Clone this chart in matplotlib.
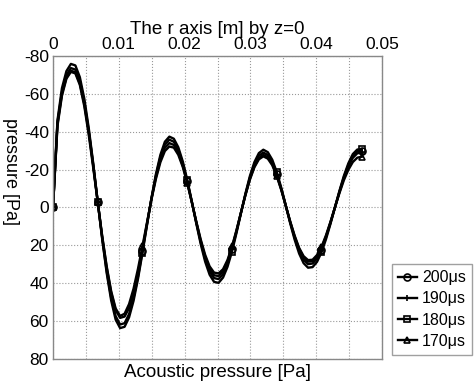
import matplotlib
matplotlib.use("Agg")
import matplotlib.pyplot as plt
from matplotlib.ticker import MultipleLocator

plt.rcParams['font.family'] = ['Liberation Sans', 'DejaVu Sans']
plt.rcParams['axes.unicode_minus'] = False

# r positions [m], sampled every 0.00068 m
r_step = 0.00068
r = [i * r_step for i in range(70)]

p_200us = [0, -45, -61, -70, -73.6, -72.8, -66.8, -55.7, -40.4, -22.4, -2.9, 16.3, 33.6, 47.6, 57.4,
           61.8, 61.1, 56.3, 47.8, 36.5, 23.0, 9.0, -4.7, -16.9, -26.6, -33.2, -35.8, -34.7, -30.4,
           -23.2, -13.9, -3.2, 7.8, 18.2, 27.2, 33.7, 37.3, 37.8, 35.2, 29.7, 22.1, 12.8, 2.9, -6.9,
           -15.8, -22.7, -27.3, -29.0, -27.7, -23.9, -17.7, -9.9, -1.1, 7.8, 16.0, 22.8, 27.6, 29.9,
           29.6, 27.0, 22.3, 15.8, 8.2, 0.0, -8.3, -16.0, -22.4, -27.2, -29.7, -30.0]
p_190us = [0, -44, -60, -68.6, -72.2, -71.4, -65.5, -54.6, -39.6, -21.9, -2.8, 15.6, 31.8, 45.0, 54.2,
           58.3, 57.6, 53.1, 45.1, 34.4, 21.8, 8.6, -4.5, -16.0, -25.2, -31.5, -34.0, -33.0, -28.9,
           -22.1, -13.3, -3.1, 7.5, 17.5, 26.0, 32.3, 35.8, 36.2, 33.7, 28.5, 21.2, 12.3, 2.7, -6.6,
           -15.1, -21.7, -26.0, -27.8, -26.6, -22.9, -17.0, -9.6, -1.1, 7.5, 15.3, 21.9, 26.5, 28.6,
           28.4, 25.8, 21.4, 15.3, 7.9, 0.0, -8.0, -15.4, -21.6, -26.2, -28.6, -29.0]
p_180us = [0, -46, -63, -72, -75.8, -75.0, -68.8, -57.4, -41.7, -23.1, -3.0, 16.8, 34.6, 49.1, 59.2,
           63.7, 63.0, 58.0, 49.3, 37.6, 23.9, 9.4, -4.9, -17.6, -27.8, -34.7, -37.4, -36.3, -31.8,
           -24.3, -14.6, -3.4, 8.2, 19.2, 28.6, 35.5, 39.3, 39.8, 37.0, 31.3, 23.3, 13.5, 3.0, -7.3,
           -16.6, -23.9, -28.7, -30.5, -29.2, -25.2, -18.7, -10.5, -1.2, 8.3, 17.0, 24.3, 29.4, 31.8,
           31.5, 28.7, 23.7, 16.8, 8.7, 0.0, -8.7, -16.7, -23.3, -28.2, -30.6, -30.7]
p_170us = [0, -43, -59, -68, -71.6, -70.8, -64.7, -53.4, -38.2, -20.8, -2.7, 15.1, 31.1, 44.2, 53.3,
           57.3, 56.1, 51.0, 42.9, 32.3, 20.3, 8.0, -4.2, -15.1, -23.9, -29.8, -32.2, -31.6, -27.8,
           -21.4, -12.8, -3.0, 7.2, 16.8, 25.0, 31.1, 34.4, 34.8, 32.6, 27.7, 20.6, 12.0, 2.7, -6.5,
           -14.7, -21.2, -25.4, -27.0, -25.8, -22.3, -16.5, -9.3, -1.0, 7.3, 14.9, 21.3, 25.7, 27.8,
           27.6, 25.1, 20.8, 14.7, 7.6, 0.0, -7.5, -14.4, -19.9, -24.0, -26.3, -26.8]

series = [
    ('200\u03bcs', p_200us, 'o'),
    ('190\u03bcs', p_190us, '+'),
    ('180\u03bcs', p_180us, 's'),
    ('170\u03bcs', p_170us, '^'),
]
mark_idx = [0, 10, 20, 30, 40, 50, 60, 69]

x_ticks = [0, 0.01, 0.02, 0.03, 0.04, 0.05]
x_labels = ['0', '0.01', '0.02', '0.03', '0.04', '0.05']
y_ticks = [-80, -60, -40, -20, 0, 20, 40, 60, 80]

fig = plt.figure(figsize=(4.74, 3.86), dpi=100)
ax = fig.add_axes([0.1118, 0.070, 0.6942, 0.785])

lines = []
for label, vals, mk in series:
    ln, = ax.plot(r, vals, color='black', lw=1.7, marker=mk, markevery=mark_idx,
                  ms=5, mfc='none', mec='black', mew=1.2, label=label)
    lines.append(ln)

ax.set_xlim(0, 0.05)
ax.set_ylim(80, -80)
ax.set_xticks(x_ticks)
ax.set_xticklabels(x_labels)
ax.xaxis.set_minor_locator(MultipleLocator(0.005))
ax.set_yticks(y_ticks)
ax.xaxis.tick_top()
ax.xaxis.set_label_position('top')
ax.set_xlabel('The r axis [m] by z=0', fontsize=13.5, labelpad=2)
ax.tick_params(which='both', length=0, labelsize=12.5, pad=3)
ax.grid(True, which='both', axis='x', color='#999999', ls=':', lw=0.8)
ax.grid(True, which='major', axis='y', color='#999999', ls=':', lw=0.8)
for s in ax.spines.values():
    s.set_color('#888888')
    s.set_linewidth(1.0)

fig.text(0.458, 0.036, 'Acoustic pressure [Pa]', ha='center', va='center', fontsize=13.5)
fig.text(0.022, 0.555, 'pressure [Pa]', ha='center', va='center', fontsize=13, rotation=270)

leg = fig.legend(handles=lines, loc='upper left', bbox_to_anchor=(0.826, 0.316),
                 fontsize=11.5, frameon=True, fancybox=False, edgecolor='#888888',
                 handlelength=1.2, handletextpad=0.3, borderpad=0.4, labelspacing=0.38,
                 borderaxespad=0)
leg.get_frame().set_linewidth(1.0)

fig.savefig('out.png', dpi=100)
